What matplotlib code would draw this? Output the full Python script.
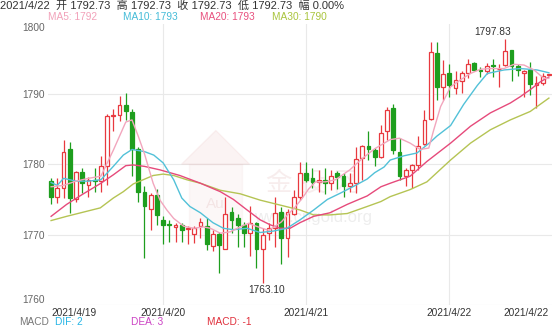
import matplotlib
matplotlib.use('Agg')
import matplotlib.pyplot as plt
import numpy as np

plt.rcParams['font.family'] = ['Liberation Sans', 'Noto Sans CJK SC']

# hourly candles, 2021/4/19 - 2021/4/22
opens = [1777.6, 1775.3, 1776.6, 1782.2, 1775.1, 1778.9, 1777.1, 1777.8, 1777.6, 1779.8,
         1786.8, 1787.0, 1788.4, 1787.4, 1782.1, 1776.1, 1773.6, 1775.7, 1772.1, 1771.5,
         1771.1, 1771.3, 1770.8, 1770.1, 1771.2, 1771.2, 1768.4, 1770.1, 1768.0, 1773.2,
         1772.3, 1771.3, 1770.2, 1771.6, 1767.9, 1770.2, 1770.9, 1773.2, 1769.5, 1773.0,
         1775.4, 1778.7, 1778.0, 1777.5, 1777.7, 1777.3, 1778.7, 1778.3, 1776.9, 1777.3,
         1780.9, 1782.6, 1782.0, 1781.0, 1784.7, 1788.0, 1781.8, 1778.3, 1779.2, 1779.9,
         1782.9, 1786.4, 1795.8, 1791.0, 1792.9, 1790.8, 1791.9, 1793.0, 1794.4, 1793.4,
         1793.2, 1794.1, 1793.5, 1794.1, 1796.2, 1793.9, 1793.0, 1793.4, 1791.2, 1791.6,
         1792.73]
closes = [1775.3, 1776.6, 1781.7, 1775.2, 1778.9, 1777.4, 1777.8, 1777.6, 1779.8, 1786.8,
          1787.0, 1788.4, 1787.5, 1782.2, 1776.1, 1774.0, 1775.7, 1772.8, 1771.3, 1771.3,
          1771.4, 1770.6, 1770.9, 1771.0, 1771.8, 1768.7, 1770.1, 1768.5, 1773.0, 1772.1,
          1771.4, 1770.2, 1771.7, 1768.0, 1769.9, 1770.9, 1773.1, 1769.5, 1773.2, 1775.4,
          1778.8, 1777.8, 1777.5, 1777.7, 1777.4, 1778.3, 1778.2, 1776.9, 1777.3, 1780.7,
          1782.6, 1782.1, 1781.0, 1784.5, 1787.7, 1782.0, 1778.4, 1779.2, 1779.9, 1782.6,
          1786.3, 1795.9, 1791.0, 1792.8, 1791.3, 1792.0, 1793.0, 1794.3, 1793.4, 1793.2,
          1793.9, 1793.9, 1793.6, 1796.1, 1793.9, 1793.4, 1793.2, 1791.4, 1791.6, 1792.6,
          1792.73]
highs = [1778.0, 1778.0, 1783.4, 1783.1, 1779.0, 1779.5, 1778.2, 1779.5, 1781.2, 1787.2,
         1787.8, 1789.7, 1790.1, 1787.8, 1782.5, 1776.9, 1775.9, 1776.5, 1772.7, 1772.1,
         1771.6, 1771.6, 1771.2, 1771.2, 1772.3, 1772.4, 1770.6, 1770.4, 1775.3, 1773.9,
         1773.0, 1771.8, 1774.0, 1771.8, 1770.9, 1771.6, 1775.4, 1773.9, 1773.7, 1776.3,
         1780.3, 1780.3, 1779.4, 1779.2, 1779.4, 1779.2, 1779.0, 1778.7, 1778.7, 1782.4,
         1782.8, 1784.7, 1782.3, 1785.6, 1788.2, 1788.5, 1783.7, 1779.5, 1780.1, 1784.0,
         1787.7, 1797.4, 1797.4, 1794.8, 1794.3, 1793.2, 1793.2, 1795.0, 1794.5, 1793.8,
         1794.4, 1795.0, 1794.3, 1797.83, 1796.2, 1794.3, 1793.4, 1794.6, 1792.5, 1793.0,
         1792.73]
lows = [1774.3, 1774.5, 1775.2, 1773.1, 1774.6, 1775.9, 1775.4, 1776.1, 1776.1, 1777.1,
        1784.7, 1786.1, 1786.3, 1778.3, 1774.7, 1766.7, 1770.6, 1771.3, 1768.7, 1769.0,
        1769.0, 1769.0, 1768.7, 1768.8, 1769.5, 1767.8, 1767.7, 1764.5, 1767.9, 1770.2,
        1768.2, 1768.3, 1766.9, 1765.2, 1763.1, 1769.3, 1768.3, 1765.8, 1766.8, 1772.8,
        1774.9, 1777.5, 1776.6, 1776.0, 1775.8, 1776.3, 1776.5, 1775.4, 1776.0, 1775.9,
        1777.8, 1780.6, 1779.7, 1780.9, 1783.5, 1781.5, 1777.8, 1776.9, 1776.6, 1779.2,
        1782.8, 1786.3, 1789.1, 1789.1, 1789.6, 1790.0, 1790.1, 1792.2, 1793.2, 1792.4,
        1792.8, 1792.4, 1791.0, 1793.9, 1791.8, 1792.6, 1789.6, 1789.9, 1788.0, 1791.3,
        1792.73]

# moving averages (candle index, value)
ma5_idx = [0, 2, 4, 6, 8, 10, 12, 13, 14, 15, 16.4, 17.5, 18.6, 19.7, 21.3, 22.9, 24.5, 25.6,
           27.2, 28.8, 30.4, 31.7, 33.9, 35, 36, 37, 38.2, 39.2, 40.3, 41.4, 42.5, 44.1, 45.7,
           48, 50, 52, 54.5, 56, 57.7, 59.3, 60.7, 61.5, 62.6, 64.2, 65.8, 67.4, 69, 70.6,
           72.8, 74.4, 76, 77.6, 79.2, 80]
ma5 = [1776.8, 1777.0, 1777.6, 1778.0, 1778.3, 1782.0, 1786.0, 1786.3, 1784.0, 1781.5, 1777.3,
       1774.9, 1773.5, 1772.3, 1771.2, 1770.9, 1771.1, 1770.9, 1770.2, 1770.4, 1771.1, 1771.6,
       1770.9, 1770.6, 1771.2, 1771.8, 1773.0, 1773.9, 1775.1, 1776.5, 1777.5, 1777.5, 1777.8,
       1779.2, 1780.8, 1782.2, 1783.5, 1783.7, 1783.0, 1782.1, 1782.3, 1784.9, 1788.2, 1791.0,
       1792.0, 1792.9, 1793.5, 1793.6, 1793.6, 1794.2, 1794.1, 1793.4, 1792.2, 1792.2]

ma10_idx = [0, 1, 2, 4, 6, 8, 10, 11.6, 13, 15, 16.5, 18, 19.7, 21, 22.3, 24, 26, 27.7, 29.3,
            31.5, 33.6, 35.7, 37.9, 40, 42.2, 44.4, 46.5, 48.7, 50.8, 52, 53.5, 54.5, 56.7,
            58.8, 60.9, 62, 64.2, 66.3, 68.5, 70.1, 72.8, 75.4, 78.1, 80]
ma10 = [1777.4, 1777.0, 1778.0, 1777.6, 1777.6, 1777.8, 1779.7, 1781.3, 1782.1, 1781.8, 1781.3,
        1780.2, 1777.8, 1775.2, 1774.0, 1773.1, 1771.7, 1770.9, 1770.7, 1770.9, 1770.3, 1770.5,
        1770.9, 1772.1, 1773.5, 1775.0, 1775.9, 1776.9, 1777.9, 1778.8, 1779.6, 1780.6, 1781.2,
        1781.6, 1783.1, 1784.0, 1785.5, 1788.5, 1791.2, 1792.9, 1793.4, 1793.6, 1793.4, 1793.0]

ma20_idx = [0, 2.5, 5, 8, 10, 12, 13.2, 15, 17.5, 20.7, 24, 27.2, 29.3, 31.5, 33.6, 35.2, 36.8,
            38.4, 40, 42.2, 44.8, 47.6, 50.8, 53, 54.5, 57.7, 60.4, 64.2, 67.4, 70.6, 73.8,
            75.4, 77, 78.6, 80]
ma20 = [1772.6, 1774.3, 1775.7, 1777.3, 1778.5, 1779.8, 1779.9, 1779.7, 1779.2, 1778.4, 1777.3,
        1776.1, 1775.0, 1773.5, 1772.1, 1771.4, 1770.9, 1770.9, 1771.7, 1772.6, 1773.1, 1774.3,
        1775.5, 1776.8, 1777.3, 1778.3, 1780.4, 1783.0, 1785.4, 1787.3, 1788.7, 1789.6, 1790.6,
        1791.7, 1792.4]

ma30_idx = [0, 2.5, 5.2, 7.9, 10, 11.6, 13.2, 14.8, 16.4, 18, 19.7, 21.8, 24, 27.2, 30.4, 33.6,
            36.8, 40, 42.2, 44.8, 47.6, 50.8, 53, 54.5, 57.7, 60.4, 64.2, 67.4, 70.6, 73.8, 77, 80]
ma30 = [1772.0, 1772.6, 1773.2, 1773.8, 1775.2, 1776.1, 1777.2, 1777.8, 1778.4, 1778.6, 1778.4,
        1777.8, 1777.3, 1776.3, 1775.8, 1774.9, 1774.2, 1773.5, 1772.8, 1772.8, 1773.0, 1774.0,
        1774.7, 1775.4, 1776.4, 1777.5, 1780.6, 1783.0, 1784.9, 1786.3, 1787.5, 1789.4]

date_pos = [0, 18, 41, 64, 80]
date_labels = ['2021/4/19', '2021/4/20', '2021/4/21', '2021/4/22', '2021/4/22']

RED = '#e8393f'
GREEN = '#1e9e1e'

fig = plt.figure(figsize=(5.57, 3.28), dpi=100)
ax = fig.add_axes([48 / 557, 1 - 305 / 328, 504 / 557, 281.5 / 328])

o = np.array(opens)
c = np.array(closes)
h = np.array(highs)
l = np.array(lows)
x = np.arange(len(o))
up = c >= o
cols = np.where(up, RED, GREEN)

ax.vlines(x, l, h, colors=cols, linewidth=0.9, zorder=2)
body_lo = np.minimum(o, c)
body_h = np.maximum(np.abs(c - o), 0.08)
ax.bar(x[up], body_h[up], bottom=body_lo[up], width=0.62, facecolor='white',
       edgecolor=RED, linewidth=0.9, zorder=3)
ax.bar(x[~up], body_h[~up], bottom=body_lo[~up], width=0.62, facecolor=GREEN,
       edgecolor=GREEN, linewidth=0.9, zorder=3)

ax.plot(ma30_idx, ma30, color='#b5c454', lw=1.0, zorder=4)
ax.plot(ma20_idx, ma20, color='#e64a7b', lw=1.0, zorder=4)
ax.plot(ma10_idx, ma10, color='#52c1d8', lw=1.0, zorder=4)
ax.plot(ma5_idx, ma5, color='#f2a6bd', lw=1.0, zorder=4)

ax.set_xlim(-0.5, 80.5)
ax.set_ylim(1760, 1800)
for s in ax.spines.values():
    s.set_visible(False)
for v in [1760, 1770, 1780, 1790]:
    ax.axhline(v, color='#e9e9e9', lw=0.8, zorder=0)
for p in date_pos[1:4]:
    ax.axvline(p, color='#e9e9e9', lw=0.8, zorder=0)

ax.set_yticks([1760, 1770, 1780, 1790, 1800])
ax.set_yticklabels(['1760', '1770', '1780', '1790', '1800'])
ax.tick_params(axis='y', length=0, pad=2, labelsize=7.3, labelcolor='#666666')
ylabels = ax.get_yticklabels()
ylabels[0].set_va('bottom')
ylabels[-1].set_va('top')

ax.set_xticks(date_pos)
ax.set_xticklabels(date_labels)
ax.tick_params(axis='x', length=0, pad=2, labelsize=7.3, labelcolor='#333333')
xlabels = ax.get_xticklabels()
xlabels[0].set_ha('left')
xlabels[-1].set_ha('right')

# extreme labels
ax.annotate('1797.83', xy=(73, 1797.83), xytext=(-9, 1), textcoords='offset points',
            ha='center', va='bottom', fontsize=7.3, color='#333333')
ax.annotate('1763.10', xy=(34, 1763.10), xytext=(2.5, -1), textcoords='offset points',
            ha='center', va='top', fontsize=7.3, color='#333333')

# faint watermark
ax.fill([0.28, 0.385, 0.385, 0.28], [0.50, 0.50, 0.27, 0.27], transform=ax.transAxes,
        color='#e8b8b8', alpha=0.10, zorder=1)
ax.fill([0.265, 0.333, 0.40], [0.50, 0.62, 0.50], transform=ax.transAxes,
        color='#e8b8b8', alpha=0.16, zorder=1)
ax.text(0.333, 0.36, 'Au', transform=ax.transAxes, fontsize=11, color='#e8c8c8',
        alpha=0.4, ha='center', va='center', zorder=1)
ax.text(0.525, 0.43, '金 投 网', transform=ax.transAxes, fontsize=19, color='#d8a0a0',
        alpha=0.18, ha='center', va='center', zorder=1)
ax.text(0.525, 0.31, 'www.cngold.org', transform=ax.transAxes, fontsize=12, color='#bbbbbb',
        alpha=0.25, ha='center', va='center', zorder=1)

# header
fig.text(0.0, 1 - 6 / 328, '2021/4/22  开 1792.73  高 1792.73  收 1792.73  低 1792.73  幅 0.00%',
         fontsize=8, color='#333333', va='center', ha='left')
legend_items = [('MA5: 1792', '#f2a1b9', 48), ('MA10: 1793', '#45bcd8', 123),
                ('MA20: 1793', '#e8507e', 200), ('MA30: 1790', '#a9c43c', 272)]
for txt, col, px in legend_items:
    fig.text(px / 557, 1 - 17 / 328, txt, fontsize=7.3, color=col, va='center', ha='left')

macd_items = [('MACD', '#777777', 19), ('DIF: 2', '#27b5e5', 55),
              ('DEA: 3', '#cc44c4', 131), ('MACD: -1', '#e0303c', 207)]
for txt, col, px in macd_items:
    fig.text(px / 557, 1 - 322 / 328, txt, fontsize=7.3, color=col, va='center', ha='left')

fig.savefig('out.png', dpi=100)
